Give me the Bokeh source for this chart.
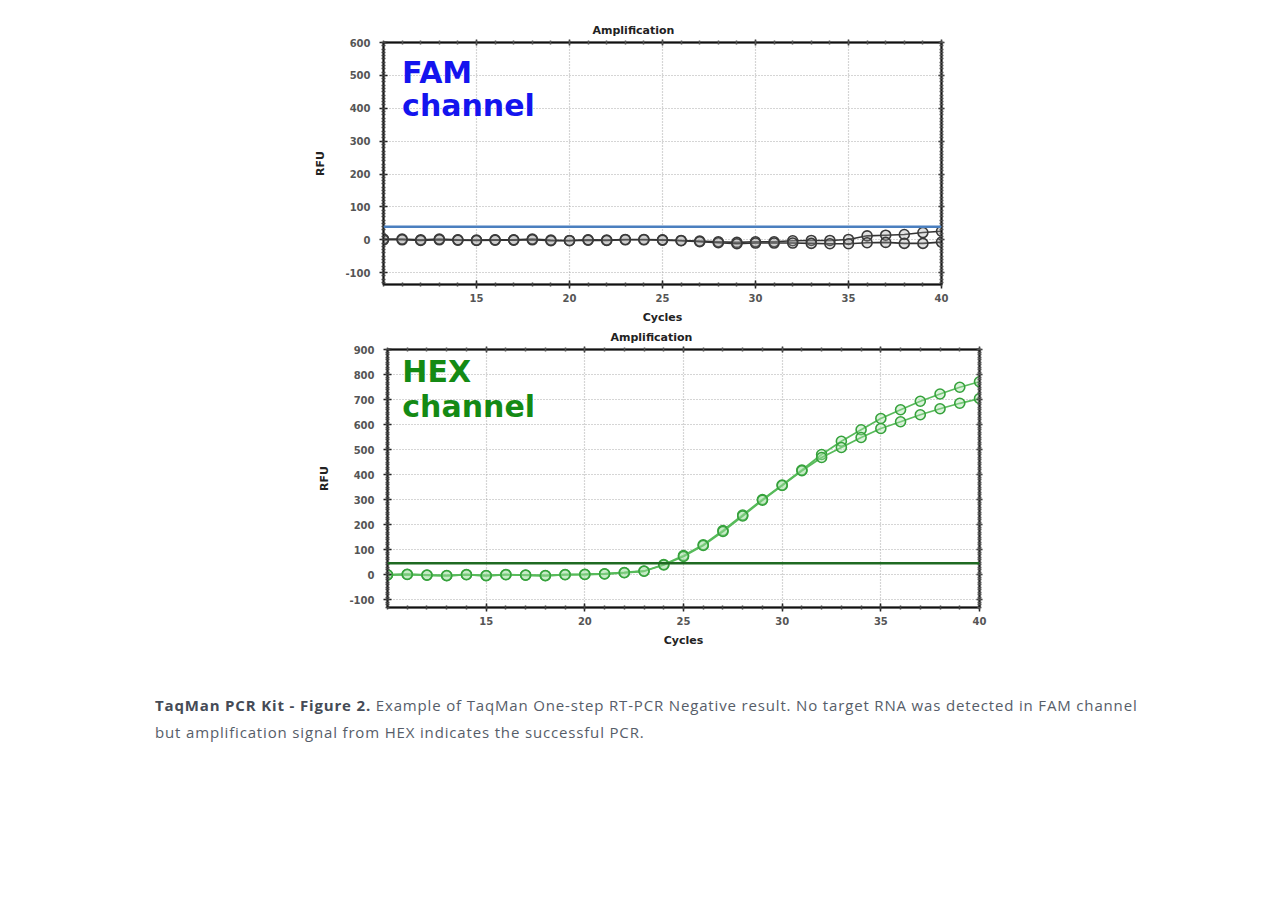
from bokeh.plotting import figure
from bokeh.models import (Span, Label, LinearAxis, Div, Range1d,
                          SingleIntervalTicker, FixedTicker)
from bokeh.layouts import column, row
from bokeh.embed import file_html
from bokeh.resources import INLINE

cycles = [10, 11, 12, 13, 14, 15, 16, 17, 18, 19, 20, 21, 22, 23, 24, 25,
          26, 27, 28, 29, 30, 31, 32, 33, 34, 35, 36, 37, 38, 39, 40]

fam_a = [2, 2, 0, 2, 0, -1, 0, 0, 2, -1, -2, 0, -1, 1, 1, 0,
         -2, -4, -6, -8, -6, -6, -3, -2, -2, 1, 12, 14, 16, 22, 26]
fam_b = [0, 0, -2, 0, -1, -2, -1, -1, 0, -3, -3, -1, -2, 0, 0, -1,
         -3, -6, -9, -12, -10, -10, -10, -11, -12, -12, -9, -8, -11, -11, -7]

hex_a = [-2, 1, -3, -5, 0, -5, 0, -3, -5, 0, 1, 3, 8, 14, 40, 76,
         119, 176, 238, 300, 358, 418, 480, 533, 579, 624, 659, 693, 722, 749, 771]
hex_b = [-1, 0, -2, -4, -1, -4, -1, -2, -4, -1, 0, 2, 7, 13, 38, 72,
         116, 172, 234, 297, 356, 415, 468, 508, 548, 584, 611, 639, 663, 685, 704]

fam_threshold = 40
hex_threshold = 45

x_ticks = [15, 20, 25, 30, 35, 40]
fam_y_ticks = [-100, 0, 100, 200, 300, 400, 500, 600]
hex_y_ticks = [-100, 0, 100, 200, 300, 400, 500, 600, 700, 800, 900]

FONT = "DejaVu Sans"


def style_fig(p, yticks, title_offset, title_standoff):
    p.title.text_font = FONT
    p.title.text_font_size = "11px"
    p.title.text_font_style = "bold"
    p.title.text_color = "#222222"
    p.title.align = "left"
    p.title.offset = title_offset
    p.title.standoff = title_standoff
    p.outline_line_color = "#111111"
    p.outline_line_width = 2
    p.xaxis[0].ticker = FixedTicker(ticks=x_ticks, minor_ticks=cycles)
    p.yaxis[0].ticker = SingleIntervalTicker(interval=100, num_minor_ticks=10)
    p.yaxis[0].major_label_overrides = {t: str(t) for t in yticks}
    for ax in list(p.xaxis) + list(p.yaxis):
        ax.axis_line_color = "#111111"
        ax.axis_line_width = 1.5
        ax.major_tick_line_color = "#222222"
        ax.minor_tick_line_color = "#444444"
        ax.major_tick_in = 4
        ax.major_tick_out = 4
        ax.minor_tick_in = 2
        ax.minor_tick_out = 2
        ax.major_tick_line_width = 1.5
        ax.minor_tick_line_width = 1.5
        ax.major_label_text_font = FONT
        ax.major_label_text_font_size = "10px"
        ax.major_label_text_font_style = "bold"
        ax.major_label_text_color = "#555555"
        ax.axis_label_text_font = FONT
        ax.axis_label_text_font_size = "11px"
        ax.axis_label_text_font_style = "bold"
        ax.axis_label_text_color = "#222222"
    p.xaxis[0].major_label_standoff = 5
    p.xaxis[0].axis_label_standoff = 6
    p.yaxis[0].major_label_standoff = 9
    p.yaxis[0].axis_label_standoff = 15
    p.grid.grid_line_color = "#ababab"
    p.grid.grid_line_dash = "1 2"
    p.grid.grid_line_width = 1.2
    # tick marks (no labels) on top and right edges of the frame
    top = LinearAxis(ticker=FixedTicker(ticks=x_ticks, minor_ticks=cycles),
                     major_label_text_color=None, major_label_text_alpha=0,
                     major_label_text_font_size="8px")
    right = LinearAxis(ticker=SingleIntervalTicker(interval=100, num_minor_ticks=10),
                       major_label_text_color=None, major_label_text_alpha=0,
                       major_label_text_font_size="8px")
    for ax in (top, right):
        ax.axis_line_color = "#111111"
        ax.axis_line_width = 1.5
        ax.major_tick_in = 3
        ax.major_tick_out = 3
        ax.minor_tick_in = 2
        ax.minor_tick_out = 2
        ax.major_tick_line_color = "#333333"
        ax.minor_tick_line_color = "#555555"
        ax.major_tick_line_width = 1.5
        ax.minor_tick_line_width = 1.5
        ax.major_label_standoff = 0
    p.add_layout(top, "above")
    p.add_layout(right, "right")


# ---------------- FAM channel ----------------
p1 = figure(width=1272, height=326, title="Amplification",
            x_range=Range1d(10, 40), y_range=Range1d(-136, 600),
            x_axis_label="Cycles", y_axis_label="RFU",
            min_border_left=383, min_border_right=331,
            min_border_top=42, min_border_bottom=41,
            toolbar_location=None, output_backend="svg")
style_fig(p1, fam_y_ticks, 209, 6)

p1.add_layout(Span(location=fam_threshold, dimension="width",
                   line_color="#4a7fbf", line_width=2.5))
for ys in (fam_a, fam_b):
    p1.line(cycles, ys, line_color="#333333", line_width=1.6)
    p1.scatter(cycles, ys, marker="circle", size=10, line_color="#3a3a3a",
               line_width=1.6, fill_color="#a0a0a0", fill_alpha=0.3)

p1.add_layout(Label(x=11.0, y=509, text="FAM", text_font=FONT,
                    text_font_size="30px", text_font_style="bold",
                    text_color="#1414ee", text_baseline="alphabetic"))
p1.add_layout(Label(x=11.0, y=409, text="channel", text_font=FONT,
                    text_font_size="30px", text_font_style="bold",
                    text_color="#1414ee", text_baseline="alphabetic"))

# ---------------- HEX channel ----------------
p2 = figure(width=1272, height=334, title="Amplification",
            x_range=Range1d(10, 40), y_range=Range1d(-132, 900),
            x_axis_label="Cycles", y_axis_label="RFU",
            min_border_left=387, min_border_right=293,
            min_border_top=23, min_border_bottom=53,
            toolbar_location=None, output_backend="svg")
style_fig(p2, hex_y_ticks, 223, 5)
p2.xaxis[0].major_label_standoff = 8
p2.xaxis[0].axis_label_standoff = 8

p2.add_layout(Span(location=hex_threshold, dimension="width",
                   line_color="#1f6a22", line_width=2.5))
for ys in (hex_a, hex_b):
    p2.line(cycles, ys, line_color="#58bb5b", line_width=1.8)
    p2.scatter(cycles, ys, marker="circle", size=10, line_color="#36a23c",
               line_width=1.6, fill_color="#a8e0a8", fill_alpha=0.4)

p2.add_layout(Label(x=10.75, y=812, text="HEX", text_font=FONT,
                    text_font_size="30px", text_font_style="bold",
                    text_color="#148a14", text_baseline="alphabetic"))
p2.add_layout(Label(x=10.75, y=672, text="channel", text_font=FONT,
                    text_font_size="30px", text_font_style="bold",
                    text_color="#148a14", text_baseline="alphabetic"))

caption = Div(width=1272, height=110, text=(
    '<div style="font-family: \'Open Sans\', sans-serif; font-size:15px; letter-spacing:0.84px; '
    'line-height:27px; color:#565d69; margin-left:150px; margin-top:27px; white-space:nowrap;">'
    '<b style="color:#454b56;">TaqMan PCR Kit - Figure 2.</b> '
    'Example of TaqMan One-step RT-PCR Negative result. No target RNA was detected in FAM channel<br>'
    'but amplification signal from HEX indicates the successful PCR.</div>'))

layout = column(row(p1), row(p2), caption, spacing=0)
open("out.html", "w").write(file_html(layout, INLINE))
